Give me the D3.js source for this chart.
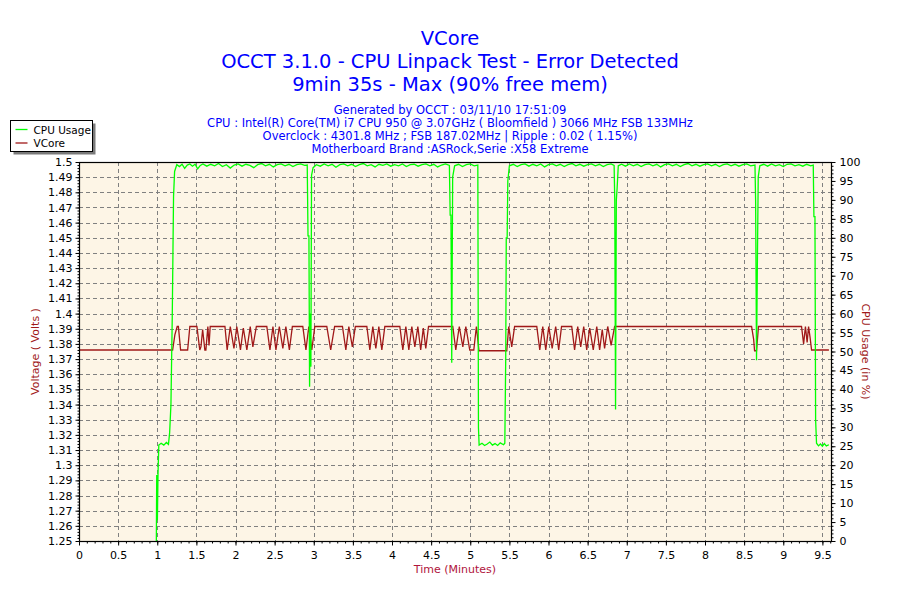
<!DOCTYPE html>
<html>
<head>
<meta charset="utf-8">
<script src="https://cdn.jsdelivr.net/npm/d3@7"></script>
<style>
body { margin: 0; background: #fff; }
svg text { font-family: "DejaVu Sans", sans-serif; }
</style>
</head>
<body>
<svg id="chart"></svg>
<script>
"use strict";

var width = 900,
    height = 600;

var titleLines = ["VCore", "OCCT 3.1.0 - CPU Linpack Test - Error Detected", "9min 35s - Max (90% free mem)"];
var infoLines = [
    "Generated by OCCT : 03/11/10 17:51:09",
    "CPU : Intel(R) Core(TM) i7 CPU 950 @ 3.07GHz ( Bloomfield ) 3066 MHz FSB 133MHz",
    "Overclock : 4301.8 MHz ; FSB 187.02MHz | Ripple : 0.02 ( 1.15%)",
    "Motherboard Brand :ASRock,Serie :X58 Extreme"
];
var seriesNames = ["CPU Usage", "VCore"];

var timeTicks = [0, 0.5, 1, 1.5, 2, 2.5, 3, 3.5, 4, 4.5, 5, 5.5, 6, 6.5, 7, 7.5, 8, 8.5, 9, 9.5];
var voltTicks = [1.25, 1.26, 1.27, 1.28, 1.29, 1.3, 1.31, 1.32, 1.33, 1.34, 1.35, 1.36, 1.37, 1.38,
    1.39, 1.4, 1.41, 1.42, 1.43, 1.44, 1.45, 1.46, 1.47, 1.48, 1.49, 1.5];
var usageTicks = [0, 5, 10, 15, 20, 25, 30, 35, 40, 45, 50, 55, 60, 65, 70, 75, 80, 85, 90, 95, 100];

// [seconds, volts]
var vcore = [
    [0, 1.376], [71.8, 1.376], [73.5, 1.386], [75.3, 1.3915], [76.2, 1.3915], [77.9, 1.376], [83.3, 1.376],
    [85, 1.3915], [90.4, 1.3915], [92.6, 1.376], [93.5, 1.378], [94.8, 1.3895], [96.5, 1.376], [97.3, 1.376],
    [98.8, 1.3915], [99.7, 1.379], [100.6, 1.3915], [111.9, 1.3915],
    [113.6, 1.376], [116, 1.3915], [118.8, 1.377], [121, 1.3915], [123.8, 1.376], [126, 1.3905], [128.7, 1.376],
    [131.3, 1.3915], [133.3, 1.378], [136, 1.3915], [144, 1.3915],
    [146.4, 1.376], [148.7, 1.3915], [151, 1.376], [153.6, 1.3915], [156.3, 1.377], [158.6, 1.3915],
    [161.3, 1.376], [163.6, 1.3915], [171.6, 1.3915],
    [174, 1.376], [176.2, 1.3915], [178.5, 1.376], [180.8, 1.3915], [190, 1.3915],
    [193, 1.376], [196, 1.3915], [202, 1.3915],
    [204.6, 1.376], [206.9, 1.3915], [209.6, 1.378], [211.9, 1.3915], [220.7, 1.3915],
    [223, 1.376], [225.3, 1.3915], [227.6, 1.377], [229.9, 1.3915], [232.2, 1.376], [234.5, 1.3915], [246, 1.3915],
    [248.3, 1.376], [250.6, 1.3915], [252.9, 1.376], [255.2, 1.3915], [257.5, 1.378], [259.8, 1.3915],
    [262, 1.376], [264, 1.3905], [265.9, 1.377], [268, 1.3915], [286.6, 1.3915],
    [288.9, 1.376], [291.6, 1.3915], [294.3, 1.378], [296.6, 1.3915], [299.6, 1.376], [302.7, 1.376],
    [304.7, 1.3915], [306.7, 1.3755], [328, 1.3755],
    [329.5, 1.3915], [331.8, 1.378], [334, 1.3915], [351, 1.3915],
    [353.3, 1.376], [355.6, 1.3915], [357.9, 1.376], [360.2, 1.3915], [362.8, 1.377], [365.5, 1.3915],
    [367.8, 1.376], [370, 1.3915], [377.8, 1.3915],
    [380, 1.376], [382.4, 1.3915], [384.7, 1.378], [387, 1.3915], [389.3, 1.376], [391.6, 1.3905],
    [394.3, 1.376], [397, 1.3915], [399.2, 1.376], [401.2, 1.3895], [403, 1.377], [405.4, 1.3915],
    [408, 1.379], [410.7, 1.3915], [515.7, 1.3915], [517.3, 1.383], [518, 1.3755], [519.5, 1.3755],
    [521, 1.3915], [554, 1.3915], [555.6, 1.38], [557, 1.3915], [558.3, 1.381], [559.4, 1.3915],
    [560.6, 1.384], [561.7, 1.376], [575, 1.376]
];

// [seconds, percent]
var cpuUsage = [
    [59.3, 0], [59.6, 17.4], [60.1, 5.5], [60.6, 18], [61.2, 25.3], [63, 25.8], [65, 25.3], [67, 26],
    [68.6, 25.5], [69.5, 28.6], [70.5, 36], [71.5, 59], [72.5, 91], [73.3, 97.5],
    [75, 99.3], [77, 98.8], [79, 99.4], [81, 98.3], [83, 99.2], [85, 99.5], [87, 98.9], [89, 99.4],
    [91, 98.2], [93, 99.1], [95, 99.5], [98, 98.9], [101, 99.4], [104, 99], [107, 99.6], [110, 98.8],
    [113, 99.3], [116, 98.4], [119, 99.2], [122, 99.5], [125, 98.9], [128, 99.4], [131, 99.1], [134, 98.5],
    [137, 99.3], [140, 99.6], [143, 99], [146, 99.4], [149, 98.7], [152, 99.3], [155, 99.5], [158, 99],
    [161, 99.4], [164, 98.8], [167, 99.3], [170, 99.5], [173, 99.1], [175, 99.2],
    [175.6, 80.5], [176.3, 80.5], [176.8, 40.7], [177.3, 60], [177.8, 46], [178.3, 96.5], [179.5, 98.5],
    [182, 99.3], [185, 98.9], [188, 99.5], [191, 99], [194, 99.4], [197, 98.6], [200, 99.3], [203, 99.5],
    [206, 99], [209, 99.4], [212, 98.8], [215, 99.3], [218, 99.6], [221, 99], [224, 99.3], [227, 98.7],
    [230, 99.4], [233, 99.1], [236, 99.5], [239, 98.9], [242, 99.3], [245, 99], [248, 99.5], [251, 98.8],
    [254, 99.3], [257, 99.4], [260, 98.9], [263, 99.3], [266, 99.5], [269, 99], [272, 99.4], [275, 98.7],
    [278, 99.2], [281, 99.5], [284, 99.1],
    [284.6, 86], [285.2, 86], [285.8, 47], [286.5, 96], [288, 99],
    [291, 99.4], [294, 98.8], [297, 99.3], [300, 99.5], [303, 99], [305.8, 99.2],
    [306.3, 29.8], [306.8, 25.3], [309, 25.8], [311, 25.2], [313, 25.6], [315, 26.1], [317, 25.3],
    [319, 25.7], [321, 25.2], [323, 25.9], [325.5, 25.4], [326.5, 25.8],
    [327.2, 48.6], [327.6, 80], [328.3, 80], [328.8, 95], [330, 99],
    [333, 99.4], [336, 98.8], [339, 99.3], [342, 99.5], [345, 98.9], [348, 99.4], [351, 99], [354, 99.5],
    [357, 98.7], [360, 99.3], [363, 99.5], [366, 99], [369, 99.4], [372, 98.8], [375, 99.3], [378, 99.6],
    [381, 99], [384, 99.4], [387, 98.9], [390, 99.3], [393, 99.5], [396, 99], [399, 99.4], [402, 98.8],
    [405, 99.3], [408, 99.5], [410.3, 99.1],
    [410.8, 90], [411.4, 34.7], [412, 90], [412.6, 93], [413.5, 99],
    [416, 99.4], [419, 98.9], [422, 99.5], [425, 99], [428, 99.4], [431, 98.8], [434, 99.3], [437, 99.5],
    [440, 99], [443, 99.4], [446, 98.7], [449, 99.3], [452, 99.5], [455, 99], [458, 99.4], [461, 98.8],
    [464, 99.3], [467, 99.6], [470, 99], [473, 99.4], [476, 98.9], [479, 99.3], [482, 99.5], [485, 99],
    [488, 99.4], [491, 98.8], [494, 99.3], [497, 99.5], [500, 99], [503, 99.4], [506, 98.9], [509, 99.3],
    [512, 99.5], [515, 99], [518.3, 99.2],
    [518.8, 90], [519.5, 47.7], [520.2, 75], [520.8, 96], [522, 99],
    [525, 99.4], [528, 98.9], [531, 99.5], [534, 99], [537, 99.3], [540, 98.8], [543, 99.4], [546, 99.5],
    [549, 99], [552, 99.3], [555, 98.9], [558, 99.4], [561, 99], [563, 99.2],
    [563.5, 85.6], [564.3, 85.6], [564.8, 32], [565.5, 25.8], [567, 25.1], [568.5, 25.6], [570, 25],
    [571.5, 25.7], [573, 25.1], [575, 25.4]
];

var plot = { left: 79, right: 831, top: 162, bottom: 541 },
    vcoreColor = "#a01818",
    cpuColor = "#00ff00",
    blue = "#0000ff";

var x = d3.scaleLinear().domain([0, 9.61]).range([plot.left, plot.right]);
var yVolt = d3.scaleLinear().domain([1.25, 1.5]).range([plot.bottom, plot.top]);
var yCpu = d3.scaleLinear().domain([0, 100]).range([plot.bottom, plot.top]);

var svg = d3.select("#chart")
    .attr("width", width)
    .attr("height", height)
    .style("display", "block");

svg.append("rect")
    .attr("width", width)
    .attr("height", height)
    .attr("fill", "#fff");

// titles
svg.selectAll(".title")
    .data(titleLines)
    .enter().append("text")
    .attr("class", "title")
    .attr("x", width / 2)
    .attr("y", function (d, i) { return 45 + i * 23; })
    .attr("text-anchor", "middle")
    .attr("font-size", 19.5)
    .attr("fill", blue)
    .text(function (d) { return d; });

svg.selectAll(".info")
    .data(infoLines)
    .enter().append("text")
    .attr("class", "info")
    .attr("x", width / 2)
    .attr("y", function (d, i) { return 114 + i * 13; })
    .attr("text-anchor", "middle")
    .attr("font-size", 11.5)
    .attr("fill", blue)
    .text(function (d) { return d; });

// plot background
svg.append("rect")
    .attr("x", plot.left)
    .attr("y", plot.top)
    .attr("width", plot.right - plot.left)
    .attr("height", plot.bottom - plot.top)
    .attr("fill", "#fdf5e6");

var grid = svg.append("g")
    .attr("stroke", "#808080")
    .attr("stroke-dasharray", "4,3");

grid.selectAll(".vgrid")
    .data(timeTicks.filter(function (d) { return d > 0; }))
    .enter().append("line")
    .attr("x1", function (d) { return Math.round(x(d)) + 0.5; })
    .attr("x2", function (d) { return Math.round(x(d)) + 0.5; })
    .attr("y1", plot.top)
    .attr("y2", plot.bottom);

grid.selectAll(".hgrid")
    .data(voltTicks.filter(function (d) { return d > 1.25 && d < 1.5; }))
    .enter().append("line")
    .attr("x1", plot.left)
    .attr("x2", plot.right)
    .attr("y1", function (d) { return Math.round(yVolt(d)) + 0.5; })
    .attr("y2", function (d) { return Math.round(yVolt(d)) + 0.5; });

svg.append("clipPath")
    .attr("id", "clip")
    .append("rect")
    .attr("x", plot.left)
    .attr("y", plot.top)
    .attr("width", plot.right - plot.left)
    .attr("height", plot.bottom - plot.top);

var lines = svg.append("g").attr("clip-path", "url(#clip)");

lines.append("path")
    .datum(vcore)
    .attr("fill", "none")
    .attr("stroke", vcoreColor)
    .attr("stroke-width", 1.3)
    .attr("d", d3.line()
        .x(function (d) { return x(d[0] / 60); })
        .y(function (d) { return yVolt(d[1]); }));

lines.append("path")
    .datum(cpuUsage)
    .attr("fill", "none")
    .attr("stroke", cpuColor)
    .attr("stroke-width", 1.3)
    .attr("d", d3.line()
        .x(function (d) { return x(d[0] / 60); })
        .y(function (d) { return yCpu(d[1]); }));

// axes
function styleAxis(g) {
    g.attr("font-family", "'DejaVu Sans Condensed', 'Liberation Sans', sans-serif")
        .attr("font-size", 11);
    g.selectAll("text").attr("fill", "#000");
    g.selectAll("line").attr("stroke", "#000");
    g.select(".domain").remove();
}

svg.append("g")
    .attr("transform", "translate(" + (plot.left + 0.5) + ",0)")
    .call(d3.axisLeft(yVolt).tickValues(d3.range(1.25, 1.5001, 0.002)).tickSize(2).tickFormat(""))
    .call(styleAxis);
svg.append("g")
    .attr("transform", "translate(" + (plot.left + 0.5) + ",0)")
    .call(d3.axisLeft(yVolt).tickValues(voltTicks).tickSize(4).tickPadding(3).tickFormat(String))
    .call(styleAxis);

svg.append("g")
    .attr("transform", "translate(" + (plot.right + 0.5) + ",0)")
    .call(d3.axisRight(yCpu).tickValues(d3.range(0, 101, 1)).tickSize(2).tickFormat(""))
    .call(styleAxis);
svg.append("g")
    .attr("transform", "translate(" + (plot.right + 0.5) + ",0)")
    .call(d3.axisRight(yCpu).tickValues(usageTicks).tickSize(4).tickPadding(4).tickFormat(String))
    .call(styleAxis);

svg.append("g")
    .attr("transform", "translate(0," + (plot.bottom + 0.5) + ")")
    .call(d3.axisBottom(x).tickValues(d3.range(0, 9.61, 0.1)).tickSize(2).tickFormat(""))
    .call(styleAxis);
svg.append("g")
    .attr("transform", "translate(0," + (plot.bottom + 0.5) + ")")
    .call(d3.axisBottom(x).tickValues(timeTicks).tickSize(4).tickPadding(6).tickFormat(String))
    .call(styleAxis);

// frame
svg.append("rect")
    .attr("x", plot.left + 0.5)
    .attr("y", plot.top + 0.5)
    .attr("width", plot.right - plot.left)
    .attr("height", plot.bottom - plot.top)
    .attr("fill", "none")
    .attr("stroke", "#000")
    .attr("stroke-width", 1.2);

// axis titles
svg.append("text")
    .attr("transform", "translate(39," + ((plot.top + plot.bottom) / 2) + ") rotate(-90)")
    .attr("text-anchor", "middle")
    .attr("font-size", 11)
    .attr("fill", vcoreColor)
    .text("Voltage ( Volts )");

svg.append("text")
    .attr("transform", "translate(862," + ((plot.top + plot.bottom) / 2) + ") rotate(90)")
    .attr("text-anchor", "middle")
    .attr("font-size", 11)
    .attr("fill", vcoreColor)
    .text("CPU Usage (in %)");

svg.append("text")
    .attr("x", (plot.left + plot.right) / 2)
    .attr("y", 573)
    .attr("text-anchor", "middle")
    .attr("font-size", 11)
    .attr("fill", "#b0143c")
    .text("Time (Minutes)");

// legend
var legend = svg.append("g").attr("transform", "translate(10.5,120.5)");

legend.append("rect")
    .attr("x", 3)
    .attr("y", 3)
    .attr("width", 82)
    .attr("height", 31)
    .attr("fill", "#7a7a7a");

legend.append("rect")
    .attr("width", 82)
    .attr("height", 31)
    .attr("fill", "#fff")
    .attr("stroke", "#000");

var entries = legend.selectAll(".entry")
    .data(seriesNames)
    .enter().append("g")
    .attr("transform", function (d, i) { return "translate(0," + (9 + i * 13.5) + ")"; });

entries.append("line")
    .attr("x1", 5)
    .attr("x2", 17)
    .attr("stroke", function (d, i) { return i === 0 ? cpuColor : vcoreColor; })
    .attr("stroke-width", 1.3);

entries.append("text")
    .attr("x", 23)
    .attr("y", 4)
    .attr("font-family", "'DejaVu Sans Condensed', 'Liberation Sans', sans-serif")
    .attr("font-size", 10.5)
    .attr("fill", "#000")
    .text(function (d) { return d; });
</script>
</body>
</html>
